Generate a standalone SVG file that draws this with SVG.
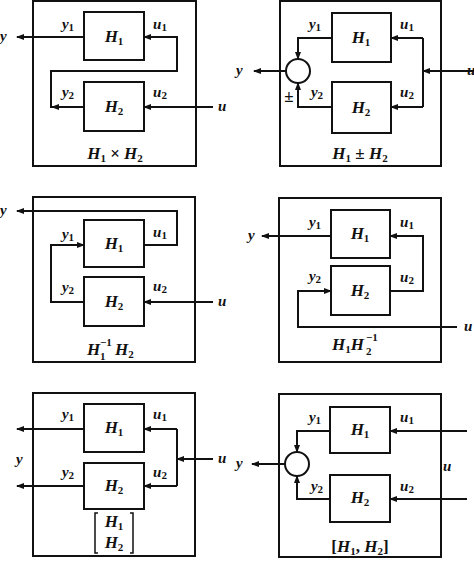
<svg xmlns="http://www.w3.org/2000/svg" width="474" height="561" viewBox="0 0 474 561">
<style>
.bx{fill:none;stroke:#111;stroke-width:2}
.ln{fill:none;stroke:#111;stroke-width:2}
.t{font-family:"Liberation Serif",serif;font-weight:bold;font-style:italic;font-size:15px;fill:#111}
.H{font-size:17px}
.c{font-size:17px}
.s{font-style:normal;font-size:11px}
.m{text-anchor:middle}
</style>
<defs>
<marker id="a" markerWidth="8" markerHeight="6" refX="7" refY="3" orient="auto" markerUnits="userSpaceOnUse"><path d="M0,0 L8,3 L0,6 z" fill="#111"/></marker>
</defs>
<rect width="474" height="561" fill="#fff"/>

<!-- Panel 1: H1 x H2 -->
<g id="p1">
<rect class="bx" x="33" y="1" width="163" height="165"/>
<g id="p1-H1"><rect class="bx" x="84" y="12" width="60" height="48"/><text class="t H m" x="114" y="42">H<tspan class="s" dy="3">1</tspan></text></g>
<g id="p1-H2"><rect class="bx" x="84" y="82" width="60" height="49"/><text class="t H m" x="114" y="112">H<tspan class="s" dy="3">2</tspan></text></g>
<text class="t m" x="68" y="29">y<tspan class="s" dy="2">1</tspan></text>
<text class="t m" x="160" y="29">u<tspan class="s" dy="2">1</tspan></text>
<text class="t m" x="68" y="97">y<tspan class="s" dy="2">2</tspan></text>
<text class="t m" x="160" y="97">u<tspan class="s" dy="2">2</tspan></text>
<text class="t" x="0" y="41">y</text>
<text class="t" x="218" y="111">u</text>
<text class="t c m" x="115" y="159">H<tspan class="s" dy="3">1</tspan><tspan style="font-style:normal" dy="-3"> × </tspan>H<tspan class="s" dy="3">2</tspan></text>
</g>

<!-- Panel 2: H1 +- H2 -->
<g id="p2">
<rect class="bx" x="280" y="1" width="161" height="165"/>
<g id="p2-H1"><rect class="bx" x="332" y="13" width="59" height="49"/><text class="t H m" x="361" y="43">H<tspan class="s" dy="3">1</tspan></text></g>
<g id="p2-H2"><rect class="bx" x="332" y="82" width="59" height="51"/><text class="t H m" x="361" y="113">H<tspan class="s" dy="3">2</tspan></text></g>
<g id="p2-sum"><circle class="bx" cx="298" cy="71" r="12"/></g>
<text class="t m" x="315" y="29">y<tspan class="s" dy="2">1</tspan></text>
<text class="t m" x="407" y="29">u<tspan class="s" dy="2">1</tspan></text>
<text class="t m" x="317" y="97">y<tspan class="s" dy="2">2</tspan></text>
<text class="t m" x="407" y="97">u<tspan class="s" dy="2">2</tspan></text>
<text class="t m" x="289" y="102" style="font-style:normal;font-size:17px">±</text>
<text class="t" x="236" y="75">y</text>
<text class="t" x="467" y="75">u</text>
<text class="t c m" x="360" y="159">H<tspan class="s" dy="3">1</tspan><tspan style="font-style:normal" dy="-3"> ± </tspan>H<tspan class="s" dy="3">2</tspan></text>
</g>

<!-- Panel 3: H1^-1 H2 -->
<g id="p3">
<rect class="bx" x="33" y="197" width="162" height="165"/>
<g id="p3-H1"><rect class="bx" x="84" y="220" width="60" height="47"/><text class="t H m" x="114" y="249">H<tspan class="s" dy="3">1</tspan></text></g>
<g id="p3-H2"><rect class="bx" x="84" y="277" width="60" height="49"/><text class="t H m" x="114" y="307">H<tspan class="s" dy="3">2</tspan></text></g>
<text class="t m" x="68" y="239">y<tspan class="s" dy="2">1</tspan></text>
<text class="t m" x="160" y="237">u<tspan class="s" dy="2">1</tspan></text>
<text class="t m" x="68" y="292">y<tspan class="s" dy="2">2</tspan></text>
<text class="t m" x="160" y="291">u<tspan class="s" dy="2">2</tspan></text>
<text class="t" x="0" y="215">y</text>
<text class="t" x="218" y="306">u</text>
<text class="t c" x="87" y="355">H<tspan class="s" x="100" y="346">−1</tspan><tspan class="s" x="100" y="360">1</tspan><tspan x="115" y="355">H</tspan><tspan class="s" dy="3">2</tspan></text>
</g>

<!-- Panel 4: H1 H2^-1 -->
<g id="p4">
<rect class="bx" x="279" y="198" width="162" height="164"/>
<g id="p4-H1"><rect class="bx" x="331" y="210" width="59" height="48"/><text class="t H m" x="360" y="239">H<tspan class="s" dy="3">1</tspan></text></g>
<g id="p4-H2"><rect class="bx" x="331" y="266" width="59" height="49"/><text class="t H m" x="360" y="296">H<tspan class="s" dy="3">2</tspan></text></g>
<text class="t m" x="315" y="227">y<tspan class="s" dy="2">1</tspan></text>
<text class="t m" x="407" y="227">u<tspan class="s" dy="2">1</tspan></text>
<text class="t m" x="315" y="281">y<tspan class="s" dy="2">2</tspan></text>
<text class="t m" x="407" y="282">u<tspan class="s" dy="2">2</tspan></text>
<text class="t" x="248" y="240">y</text>
<text class="t" x="464" y="331">u</text>
<text class="t c" x="332" y="350">H<tspan class="s" dy="3">1</tspan><tspan dy="-3">H</tspan><tspan class="s" x="366" y="341">−1</tspan><tspan class="s" x="366" y="355">2</tspan></text>
</g>

<!-- Panel 5: [H1; H2] -->
<g id="p5">
<rect class="bx" x="33" y="393" width="162" height="163"/>
<g id="p5-H1"><rect class="bx" x="84" y="404" width="60" height="48"/><text class="t H m" x="114" y="433">H<tspan class="s" dy="3">1</tspan></text></g>
<g id="p5-H2"><rect class="bx" x="84" y="463" width="60" height="46"/><text class="t H m" x="114" y="491">H<tspan class="s" dy="3">2</tspan></text></g>
<text class="t m" x="68" y="419">y<tspan class="s" dy="2">1</tspan></text>
<text class="t m" x="160" y="419">u<tspan class="s" dy="2">1</tspan></text>
<text class="t m" x="68" y="477">y<tspan class="s" dy="2">2</tspan></text>
<text class="t m" x="160" y="477">u<tspan class="s" dy="2">2</tspan></text>
<text class="t" x="16" y="464">y</text>
<text class="t" x="218" y="463">u</text>
<text class="t c m" x="114" y="527">H<tspan class="s" dy="3">1</tspan></text>
<text class="t c m" x="114" y="548">H<tspan class="s" dy="3">2</tspan></text>
<path d="M98,513 H95 V553 H98 M130,513 H133 V553 H130" fill="none" stroke="#111" stroke-width="1.5"/>
</g>

<!-- Panel 6: [H1, H2] -->
<g id="p6">
<rect class="bx" x="279" y="394" width="162" height="163"/>
<g id="p6-H1"><rect class="bx" x="330" y="407" width="60" height="46"/><text class="t H m" x="360" y="435">H<tspan class="s" dy="3">1</tspan></text></g>
<g id="p6-H2"><rect class="bx" x="330" y="475" width="60" height="47"/><text class="t H m" x="360" y="503">H<tspan class="s" dy="3">2</tspan></text></g>
<g id="p6-sum"><circle class="bx" cx="297" cy="464" r="12"/></g>
<text class="t m" x="315" y="422">y<tspan class="s" dy="2">1</tspan></text>
<text class="t m" x="407" y="422">u<tspan class="s" dy="2">1</tspan></text>
<text class="t m" x="317" y="491">y<tspan class="s" dy="2">2</tspan></text>
<text class="t m" x="407" y="491">u<tspan class="s" dy="2">2</tspan></text>
<text class="t" x="236" y="468">y</text>
<text class="t" x="443" y="471">u</text>
<text class="t c m" x="360" y="552"><tspan style="font-style:normal">[</tspan>H<tspan class="s" dy="3">1</tspan><tspan style="font-style:normal" dy="-3">, </tspan>H<tspan class="s" dy="3">2</tspan><tspan style="font-style:normal" dy="-3">]</tspan></text>
</g>

<g id="connectors">
<!-- p1 -->
<path class="ln" d="M84,37 H17" marker-end="url(#a)"/>
<path class="ln" d="M84,107 H51 V71 H177 V37 H144" marker-end="url(#a)"/>
<path class="ln" d="M84,107 H52" marker-end="url(#a)"/>
<path class="ln" d="M213,107 H144" marker-end="url(#a)"/>
<!-- p2 -->
<path class="ln" d="M332,38 H298 V59" marker-end="url(#a)"/>
<path class="ln" d="M332,107 H298 V83" marker-end="url(#a)"/>
<path class="ln" d="M286,71 H254" marker-end="url(#a)"/>
<path class="ln" d="M474,71 H423" marker-end="url(#a)"/>
<path class="ln" d="M423,38 V107"/>
<path class="ln" d="M423,38 H391" marker-end="url(#a)"/>
<path class="ln" d="M423,107 H391" marker-end="url(#a)"/>
<!-- p3 -->
<path class="ln" d="M144,245 H177 V211 H17" marker-end="url(#a)"/>
<path class="ln" d="M84,302 H51 V245 H84" marker-end="url(#a)"/>
<path class="ln" d="M213,302 H144" marker-end="url(#a)"/>
<!-- p4 -->
<path class="ln" d="M331,236 H262" marker-end="url(#a)"/>
<path class="ln" d="M390,291 H423 V236 H390" marker-end="url(#a)"/>
<path class="ln" d="M457,327 H298 V291 H331" marker-end="url(#a)"/>
<!-- p5 -->
<path class="ln" d="M84,429 H17" marker-end="url(#a)"/>
<path class="ln" d="M84,486 H17" marker-end="url(#a)"/>
<path class="ln" d="M213,459 H177" marker-end="url(#a)"/>
<path class="ln" d="M177,429 V486"/>
<path class="ln" d="M177,429 H144" marker-end="url(#a)"/>
<path class="ln" d="M177,486 H144" marker-end="url(#a)"/>
<!-- p6 -->
<path class="ln" d="M330,431 H297 V452" marker-end="url(#a)"/>
<path class="ln" d="M330,499 H297 V476" marker-end="url(#a)"/>
<path class="ln" d="M285,464 H252" marker-end="url(#a)"/>
<path class="ln" d="M467,431 H390" marker-end="url(#a)"/>
<path class="ln" d="M467,499 H390" marker-end="url(#a)"/>
</g>
</svg>
